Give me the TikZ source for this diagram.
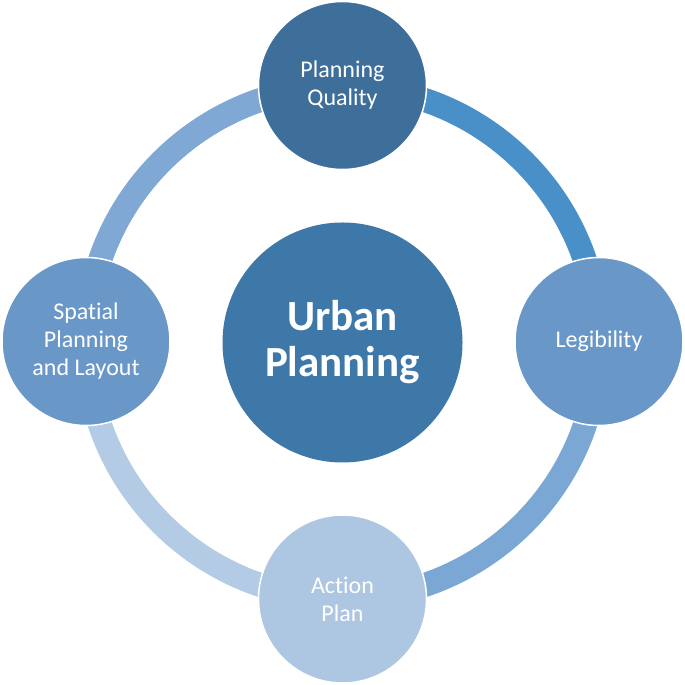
\documentclass[tikz,border=0pt]{standalone}
\usepackage{fontspec}
\setmainfont[Ligatures=NoCommon]{Carlito}
\definecolor{cCenter}{HTML}{3E78A9}
\definecolor{cTop}{HTML}{3E6F9B}
\definecolor{cSide}{HTML}{6897C8}
\definecolor{cBottom}{HTML}{ADC6E2}
\definecolor{rTR}{HTML}{4A90C8}
\definecolor{rRB}{HTML}{7BA7D5}
\definecolor{rBL}{HTML}{B3CBE4}
\definecolor{rLT}{HTML}{7FA8D4}
\tikzset{
  sat/.style={circle, minimum size=168pt, inner sep=0pt, draw=white, line width=1.5pt, text=white, align=center, font=\fontsize{24}{28}\selectfont},
  ring/.style={line width=24pt},
}
\begin{document}
\begin{tikzpicture}[x=1pt,y=1pt]
\useasboundingbox (0,0) rectangle (685,685);
\coordinate (c) at (342.5,342.5);
% ring segments
\draw[ring, rTR] ([shift={(90:256)}]c) arc[start angle=90, end angle=0, radius=256];
\draw[ring, rRB] ([shift={(0:256)}]c) arc[start angle=0, end angle=-90, radius=256];
\draw[ring, rBL] ([shift={(-90:256)}]c) arc[start angle=-90, end angle=-180, radius=256];
\draw[ring, rLT] ([shift={(180:256)}]c) arc[start angle=180, end angle=90, radius=256];
% center
\node[circle, minimum size=240pt, inner sep=0pt, fill=cCenter, text=white, align=center, font=\bfseries\fontsize{43}{46}\selectfont] (center) at (c) {Urban\\Planning};
% satellites
\node[sat, fill=cTop] (top) at (342.5,599.5) {Planning\\Quality};
\node[sat, fill=cSide] (right) at (599,343.5) {Legibility};
\node[sat, fill=cBottom] (bottom) at (342.5,86) {Action\\Plan};
\node[sat, fill=cSide] (left) at (86,343.5) {Spatial\\Planning\\and Layout};
\end{tikzpicture}
\end{document}
